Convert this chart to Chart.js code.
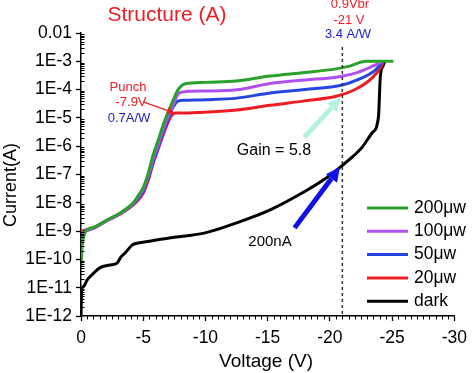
<!DOCTYPE html>
<html>
<head>
<meta charset="utf-8">
<script src="https://cdn.jsdelivr.net/npm/chart.js@4.4.0/dist/chart.umd.min.js"></script>
<style>
  html, body { margin: 0; padding: 0; background: #fff; }
  #wrap { width: 474px; height: 373px; }
</style>
</head>
<body>
<div id="wrap"><canvas id="ivChart" width="474" height="373"></canvas></div>
<script>
// values (voltage in V, current in A)
const v200 = [0, -0.1, -0.3, -0.6, -1.1, -2.1, -3.0, -3.5, -4.2, -4.6, -5.0, -5.4, -5.8, -6.2, -6.6, -7.0, -7.4, -7.8, -8.1, -8.4, -10, -12.5, -15.2, -18, -20.5, -21.5, -22.9, -25.1];
const i200 = [5.4e-11, 3.2e-10, 8.5e-10, 1.2e-9, 1.4e-9, 2.5e-9, 4e-9, 5.6e-9, 1e-8, 1.8e-8, 3.5e-8, 1.1e-7, 5e-7, 1.6e-6, 5.6e-6, 1.6e-5, 4.2e-5, 1e-4, 1.4e-4, 1.6e-4, 1.8e-4, 2e-4, 3e-4, 4e-4, 5.4e-4, 6.6e-4, 1e-3, 1e-3];

const v100 = [0, -0.1, -0.3, -0.6, -1.1, -2.1, -3.0, -3.5, -4.2, -4.6, -5.0, -5.4, -5.8, -6.2, -6.6, -7.0, -7.4, -7.8, -8.2, -10, -12.5, -15.2, -18, -20.5, -22.1, -23.65, -24.2];
const i100 = [1.6e-10, 5e-10, 8.9e-10, 1.1e-9, 1.3e-9, 2.4e-9, 3.8e-9, 5.4e-9, 9.3e-9, 1.6e-8, 3e-8, 8.9e-8, 3.5e-7, 1.1e-6, 3.8e-6, 1.1e-5, 2.8e-5, 7e-5, 8.3e-5, 8.9e-5, 9.8e-5, 1.65e-4, 2.2e-4, 2.75e-4, 3.9e-4, 7.4e-4, 9.5e-4];

const v50 = [0, -0.1, -0.3, -0.6, -1.1, -2.1, -3.0, -3.5, -4.2, -4.6, -5.0, -5.4, -5.8, -6.2, -6.6, -7.0, -7.4, -7.85, -8.3, -10, -12.5, -15.2, -18, -21, -22.1, -23.65, -24.2];
const i50 = [2e-10, 6.3e-10, 1e-9, 1.1e-9, 1.35e-9, 2.4e-9, 3.8e-9, 5.2e-9, 8.9e-9, 1.4e-8, 2.6e-8, 7.6e-8, 2.8e-7, 8.9e-7, 3e-6, 8.9e-6, 2.4e-5, 4e-5, 4.2e-5, 4.4e-5, 5e-5, 7.6e-5, 1e-4, 1.45e-4, 2.1e-4, 4.9e-4, 9.3e-4];

const v20 = [0, -0.1, -0.3, -0.6, -1.1, -2.1, -3.0, -3.5, -4.2, -4.6, -5.0, -5.4, -5.8, -6.2, -6.6, -7.0, -7.3, -7.6, -8.3, -10, -12.5, -15.2, -18, -20.5, -22.1, -23.4, -24.05, -24.3];
const i20 = [8.9e-10, 1e-9, 1.07e-9, 1.17e-9, 1.35e-9, 2.4e-9, 3.7e-9, 5e-9, 8.5e-9, 1.26e-8, 2.2e-8, 6.3e-8, 2.5e-7, 7.9e-7, 2.5e-6, 7.1e-6, 1.26e-5, 1.48e-5, 1.5e-5, 1.6e-5, 1.9e-5, 2.8e-5, 4e-5, 5.8e-5, 1.05e-4, 2.6e-4, 5.8e-4, 9.5e-4];

const vDark = [0, -0.05, -0.2, -0.5, -1.0, -1.5, -2.3, -2.9, -3.2, -3.6, -4.1, -4.6, -5.5, -7.2, -9.9, -12.5, -15.2, -17.9, -19.5, -21.0, -21.5, -22.6, -23.4, -23.9, -24.05, -24.3, -24.4];
const iDark = [1e-12, 8.3e-12, 1.1e-11, 1.9e-11, 3.2e-11, 5e-11, 6.3e-11, 7.4e-11, 1.2e-10, 1.8e-10, 3.2e-10, 3.8e-10, 4.4e-10, 5.8e-10, 8.5e-10, 1.95e-9, 5.6e-9, 2.4e-8, 6.5e-8, 2.1e-7, 3.2e-7, 9.3e-7, 3e-6, 1.07e-5, 2.8e-4, 7.4e-4, 9.5e-4];

const seriesNames = ['200\u03bcw', '100\u03bcw', '50\u03bcw', '20\u03bcw', 'dark'];
const seriesColors = ['#2aa12a', '#b050f0', '#2545e0', '#ee1c24', '#000000'];

const xTicks = [0, -5, -10, -15, -20, -25, -30];
const yTicks = [1e-2, 1e-3, 1e-4, 1e-5, 1e-6, 1e-7, 1e-8, 1e-9, 1e-10, 1e-11, 1e-12];
const yTickLabels = ['0.01', '1E-3', '1E-4', '1E-5', '1E-6', '1E-7', '1E-8', '1E-9', '1E-10', '1E-11', '1E-12'];

const breakdownV = -21;

const FONT = "'Liberation Sans', Arial, sans-serif";
Chart.defaults.font.family = FONT;
Chart.defaults.color = '#000';

function toPoints(vs, is) {
    return vs.map((v, k) => ({ x: v, y: is[k] }));
}

function arrow(ctx, x1, y1, x2, y2, color, width, head) {
    const a = Math.atan2(y2 - y1, x2 - x1);
    const bx = x2 - head * Math.cos(a);
    const by = y2 - head * Math.sin(a);
    ctx.strokeStyle = color;
    ctx.lineWidth = width;
    ctx.lineCap = 'butt';
    ctx.beginPath();
    ctx.moveTo(x1, y1);
    ctx.lineTo(bx, by);
    ctx.stroke();
    ctx.fillStyle = color;
    ctx.beginPath();
    ctx.moveTo(x2, y2);
    ctx.lineTo(bx + head * 0.5 * Math.sin(a), by - head * 0.5 * Math.cos(a));
    ctx.lineTo(bx - head * 0.5 * Math.sin(a), by + head * 0.5 * Math.cos(a));
    ctx.closePath();
    ctx.fill();
}

function text(ctx, str, x, y, color, size, align) {
    ctx.fillStyle = color;
    ctx.font = size + 'px ' + FONT;
    ctx.textAlign = align || 'center';
    ctx.textBaseline = 'middle';
    ctx.fillText(str, x, y);
}

// minor ticks: log decades inside on y, every 0.5 V below on x
const minorTicks = {
    id: 'minorTicks',
    afterDraw(chart) {
        const { ctx, chartArea, scales: { x, y } } = chart;
        ctx.save();
        ctx.strokeStyle = '#000';
        ctx.lineWidth = 1;
        for (let d = -12; d < -2; d++) {
            for (let k = 2; k <= 9; k++) {
                const py = Math.round(y.getPixelForValue(k * Math.pow(10, d))) + 0.5;
                ctx.beginPath();
                ctx.moveTo(chartArea.left, py);
                ctx.lineTo(chartArea.left + 3.5, py);
                ctx.stroke();
            }
        }
        for (let v = 0; v >= -30; v -= 0.5) {
            if (v % 5 === 0) continue;
            const px = Math.round(x.getPixelForValue(v)) + 0.5;
            ctx.beginPath();
            ctx.moveTo(px, chartArea.bottom);
            ctx.lineTo(px, chartArea.bottom + 3.5);
            ctx.stroke();
        }
        ctx.restore();
    }
};

const annotations = {
    id: 'annotations',
    afterDraw(chart) {
        const { ctx, chartArea, scales: { x, y } } = chart;
        ctx.save();

        // 0.9 Vbr dashed marker
        const bx = x.getPixelForValue(breakdownV);
        ctx.strokeStyle = '#333';
        ctx.lineWidth = 1.5;
        ctx.setLineDash([3, 3]);
        ctx.beginPath();
        ctx.moveTo(bx, 47);
        ctx.lineTo(bx, chartArea.bottom);
        ctx.stroke();
        ctx.setLineDash([]);

        text(ctx, 'Structure (A)', 167, 15, '#ee1c24', 21);
        text(ctx, '0.9Vbr', 350, 4, '#ee1c24', 13);
        text(ctx, '-21 V', 349, 20, '#ee1c24', 13);
        text(ctx, '3.4 A/W', 348, 34, '#1a1ad0', 13);

        text(ctx, 'Punch', 128, 87, '#ee1c24', 13);
        text(ctx, '-7.9V', 131, 102, '#ee1c24', 13);
        text(ctx, '0.7A/W', 129, 118, '#1a1ad0', 13);
        arrow(ctx, x.getPixelForValue(-5.05), y.getPixelForValue(3.6e-5),
              x.getPixelForValue(-7.5), y.getPixelForValue(1.5e-5), '#ee1c24', 1.3, 7);

        text(ctx, 'Gain = 5.8', 274, 151, '#000', 16);
        arrow(ctx, x.getPixelForValue(-17.95), y.getPixelForValue(2.1e-6),
              x.getPixelForValue(-20.85), y.getPixelForValue(5e-5), '#b4f2de', 5, 13);

        text(ctx, '200nA', 270, 242, '#000', 15);
        arrow(ctx, x.getPixelForValue(-17.16), y.getPixelForValue(1.3e-9),
              x.getPixelForValue(-20.8), y.getPixelForValue(1.8e-7), '#1010e8', 5, 14);

        // legend
        const ds = chart.data.datasets;
        ds.forEach((d, k) => {
            const ly = 208 + k * 23.3;
            ctx.strokeStyle = d.borderColor;
            ctx.lineWidth = 3;
            ctx.beginPath();
            ctx.moveTo(367, ly);
            ctx.lineTo(408, ly);
            ctx.stroke();
            text(ctx, d.label, 414, ly, '#000', 17.5, 'left');
        });

        // axis titles
        text(ctx, 'Voltage (V)', 266, 362, '#000', 19);
        ctx.translate(11, 185);
        ctx.rotate(-Math.PI / 2);
        text(ctx, 'Current(A)', 0, 0, '#000', 18);

        ctx.restore();
    }
};

const voltages = [v200, v100, v50, v20, vDark];
const currents = [i200, i100, i50, i20, iDark];

new Chart(document.getElementById('ivChart').getContext('2d'), {
    type: 'line',
    data: {
        datasets: seriesNames.map((name, k) => ({
            label: name,
            data: toPoints(voltages[k], currents[k]),
            borderColor: seriesColors[k],
            backgroundColor: seriesColors[k],
            borderWidth: 3,
            pointRadius: 0,
            cubicInterpolationMode: 'monotone',
            fill: false
        }))
    },
    options: {
        responsive: true,
        maintainAspectRatio: false,
        animation: false,
        layout: { padding: { left: 0, top: 33, right: 13, bottom: 0 } },
        plugins: {
            legend: { display: false },
            tooltip: { enabled: false }
        },
        scales: {
            x: {
                type: 'linear',
                reverse: true,
                min: -30,
                max: 0,
                afterBuildTicks: s => { s.ticks = xTicks.map(v => ({ value: v })); },
                afterFit: s => { s.height = 57; },
                ticks: {
                    font: { size: 17.5 },
                    color: '#000',
                    padding: 7,
                    maxRotation: 0,
                    autoSkip: false,
                    callback: v => String(v)
                },
                grid: { display: true, drawOnChartArea: false, drawTicks: true, tickLength: 5, tickColor: '#000', tickWidth: 1.3 },
                border: { display: true, color: '#000', width: 1.5 }
            },
            y: {
                type: 'logarithmic',
                min: 1e-12,
                max: 1e-2,
                afterBuildTicks: s => { s.ticks = yTicks.map(v => ({ value: v })); },
                afterFit: s => { s.width = 81; },
                ticks: {
                    font: { size: 17.5 },
                    color: '#000',
                    padding: 4,
                    autoSkip: false,
                    callback: (v, idx) => yTickLabels[idx]
                },
                grid: { display: true, drawOnChartArea: false, drawTicks: true, tickLength: 5, tickColor: '#000', tickWidth: 1.3 },
                border: { display: true, color: '#000', width: 1.5 }
            }
        }
    },
    plugins: [minorTicks, annotations]
});
</script>
</body>
</html>
